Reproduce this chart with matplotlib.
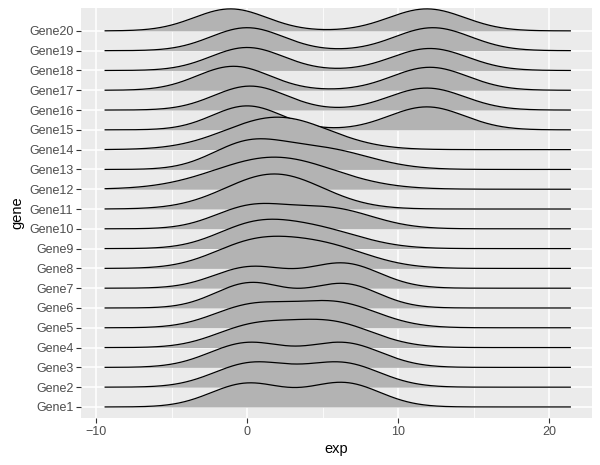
## Ridgeline plot (estilo ggridges) de expresion por gen
import numpy as np
import matplotlib
matplotlib.use("Agg")
import matplotlib.pyplot as plt

plt.rcParams['font.family'] = ['Liberation Sans', 'DejaVu Sans']

## Genes (de abajo hacia arriba)
genes = ["Gene" + str(i) for i in range(1, 21)]

## Componentes: centro, desviacion y altura (en filas)
centros = [[0.0, 6.4], [0.3, 6.3], [0.0, 6.4], [0.3, 5.5], [0.2, 5.8],
           [0.2, 6.4], [0.2, 6.4], [0.3, 5.0], [0.3, 4.5], [0.2, 5.5],
           [1.8], [1.8], [0.0, 5.0], [2.0], [0.0, 11.9],
           [0.2, 11.9], [-0.9, 12.1], [0.0, 12.1], [0.0, 12.3], [-1.1, 11.9]]
desvios = [[2.4, 2.4], [2.5, 2.5], [2.5, 2.5], [2.5, 2.8], [2.5, 2.8],
           [2.3, 2.3], [2.4, 2.4], [2.7, 3.0], [2.5, 3.0], [2.4, 2.8],
           [3.2], [3.9], [2.4, 3.1], [3.4], [2.3, 2.5],
           [2.4, 2.5], [2.4, 2.5], [2.4, 2.5], [2.4, 2.5], [2.4, 2.5]]
alturas = [[1.18, 1.21], [1.20, 1.20], [1.22, 1.22], [1.01, 1.26], [1.06, 1.26],
           [1.26, 1.21], [1.06, 1.24], [1.16, 1.11], [1.01, 0.96], [1.06, 1.01],
           [1.77], [1.62], [1.21, 1.01], [1.64], [1.21, 1.16],
           [1.21, 1.11], [1.21, 1.16], [1.16, 1.11], [1.16, 1.16], [1.11, 1.11]]

## Rango de los datos (min y max de exp)
exp_min = -9.4
exp_max = 21.4

x = np.linspace(exp_min, exp_max, 600)

fig, ax = plt.subplots(figsize=(6, 4.65), dpi=100)
fig.subplots_adjust(left=0.135, right=0.987, top=0.983, bottom=0.101)

ax.set_facecolor('#EBEBEB')
for s in ax.spines.values():
    s.set_visible(False)

## Dibujamos de arriba hacia abajo para que las de abajo queden delante
for i in range(len(genes) - 1, -1, -1):
    base = i + 1
    y = np.zeros_like(x)
    for m, sd, a in zip(centros[i], desvios[i], alturas[i]):
        y += a * np.exp(-(x - m) ** 2 / (2 * sd ** 2))
    z = 2 + (len(genes) - i) * 2
    ax.fill_between(x, base, base + y, color='#B3B3B3', lw=0, zorder=z)
    ax.plot(x, base + y, color='black', lw=0.9, zorder=z + 1)

## Ejes
ax.set_xlim(-11.0, 22.85)
ax.set_ylim(0.44, 21.16)
ax.set_xticks([-10, 0, 10, 20])
ax.set_xticks([-5, 5, 15], minor=True)
ax.set_yticks(range(1, 21))
ax.set_yticklabels(genes)

ax.grid(which='major', color='white', lw=1.1, zorder=0)
ax.grid(which='minor', axis='x', color='white', lw=0.55, zorder=0)
ax.set_axisbelow(True)

ax.tick_params(axis='both', which='major', colors='#333333', length=3.5,
               width=0.8, labelsize=9, labelcolor='#4D4D4D', pad=2)
ax.tick_params(axis='x', which='minor', length=0)

## Leyendas de los ejes
ax.set_xlabel('exp', fontsize=10.5, labelpad=3)
ax.set_ylabel('gene', fontsize=10.5, labelpad=3)

plt.savefig('out.png', dpi=100)
